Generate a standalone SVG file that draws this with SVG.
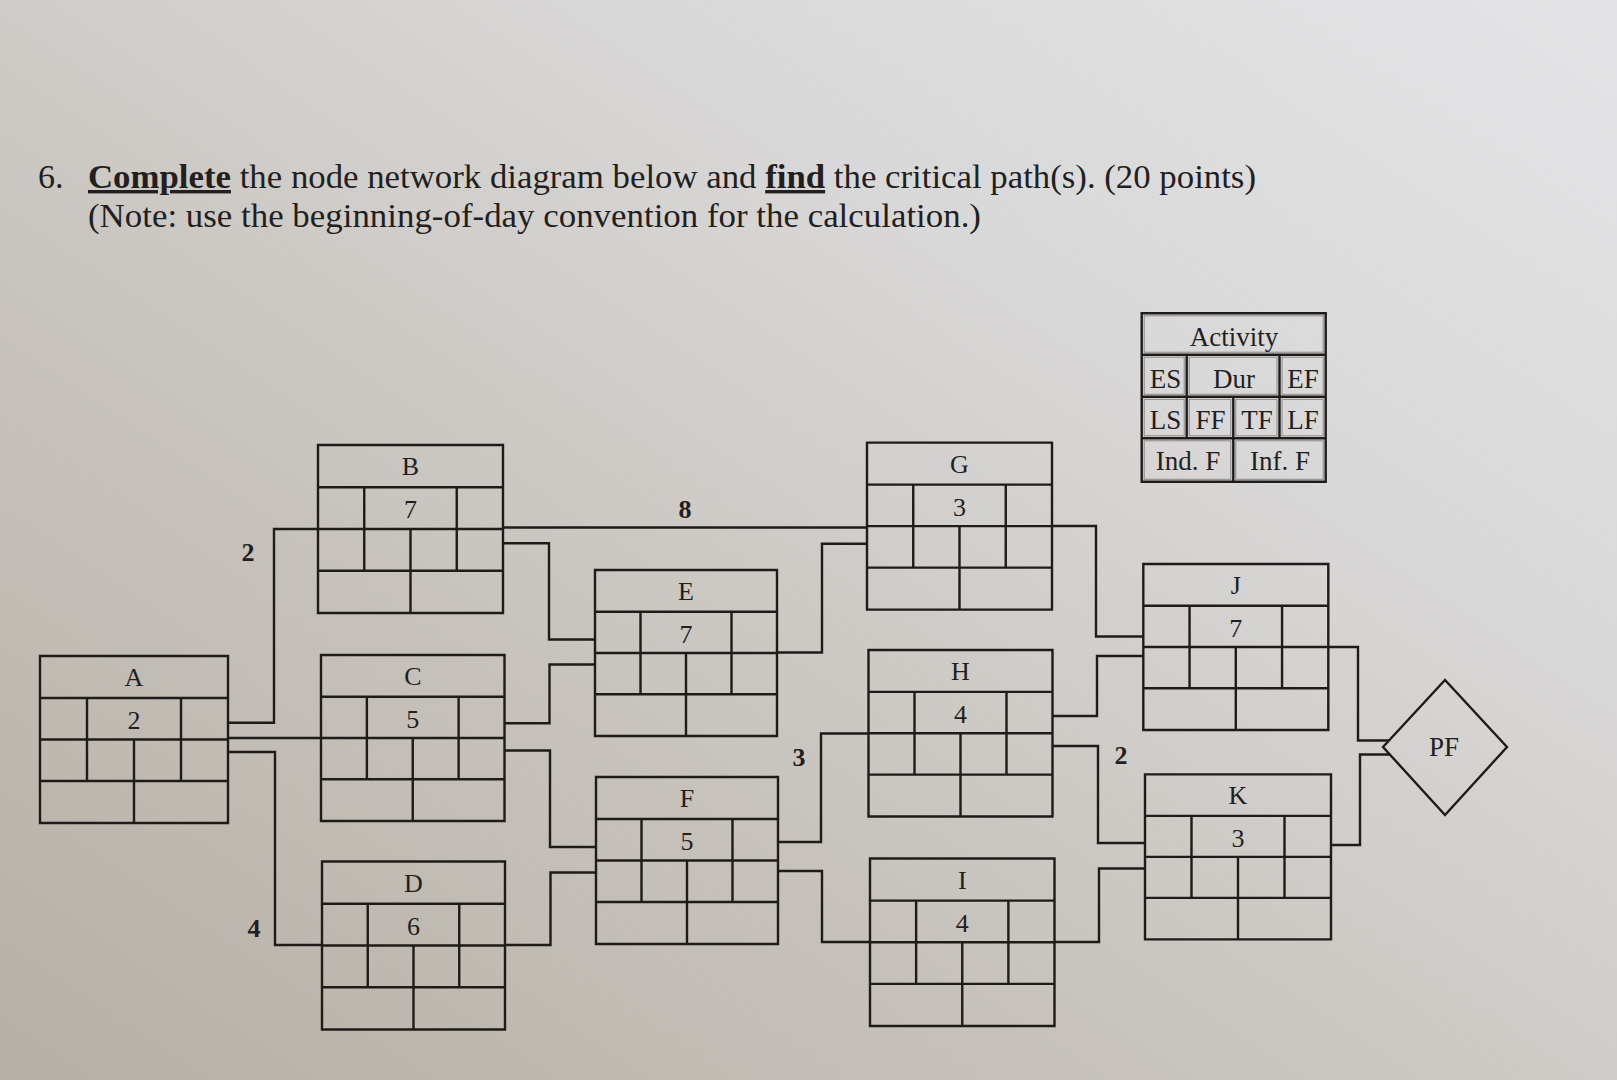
<svg xmlns="http://www.w3.org/2000/svg" width="1617" height="1080" viewBox="0 0 1617 1080">
<defs>
<linearGradient id="bg" x1="0" y1="1" x2="1" y2="0">
<stop offset="0" stop-color="#b6afa5"/>
<stop offset="0.38" stop-color="#c8c4be"/>
<stop offset="0.68" stop-color="#d9d8d8"/>
<stop offset="1" stop-color="#e4e4e6"/>
</linearGradient>
<symbol id="grid" viewBox="0 0 184 167" preserveAspectRatio="none" overflow="visible">
<path class="ln" d="M0 0H184V167H0Z M0 42H184 M0 83.5H184 M0 125H184 M46 42V125 M138 42V125 M92 83.5V167"/>
</symbol>
</defs>
<style>
.ln{fill:none;stroke:#1f1b18;stroke-width:2.4;vector-effect:non-scaling-stroke;stroke-linejoin:miter}
.cn{fill:none;stroke:#1f1b18;stroke-width:2.4;stroke-linejoin:miter}
.cell{fill:none;stroke:#8a8886;stroke-width:1}
.t{font-family:"Liberation Serif","Times New Roman",serif;fill:#221f1e}
.nl{font-size:26px;text-anchor:middle}
.lb{font-size:26px;font-weight:bold;text-anchor:middle}
.lg{font-size:27px;text-anchor:middle}
.title{font-size:34px}
</style>
<rect width="1617" height="1080" fill="url(#bg)"/>

<g id="heading">
<text class="t title" x="38" y="188">6.</text>
<text class="t title" x="88" y="188" textLength="1168" lengthAdjust="spacingAndGlyphs"><tspan font-weight="bold" text-decoration="underline">Complete</tspan> the node network diagram below and <tspan font-weight="bold" text-decoration="underline">find</tspan> the critical path(s). (20 points)</text>
<text class="t title" x="88" y="227" textLength="893" lengthAdjust="spacingAndGlyphs">(Note: use the beginning-of-day convention for the calculation.)</text>
</g>

<g id="legend">
<path class="cn" d="M1141.7 313.3H1325.7V481.8H1141.7Z M1141.7 354.7H1325.7 M1141.7 396.8H1325.7 M1141.7 438.3H1325.7 M1186.7 354.7V438.3 M1279.5 354.7V438.3 M1233.3 396.8V481.8"/>
<rect class="cell" x="1144.2" y="315.8" width="179" height="36.4"/>
<rect class="cell" x="1144.2" y="357.2" width="40" height="37.1"/>
<rect class="cell" x="1189.2" y="357.2" width="87.8" height="37.1"/>
<rect class="cell" x="1282" y="357.2" width="41.2" height="37.1"/>
<rect class="cell" x="1144.2" y="399.3" width="40" height="36.5"/>
<rect class="cell" x="1189.2" y="399.3" width="41.6" height="36.5"/>
<rect class="cell" x="1235.8" y="399.3" width="41.2" height="36.5"/>
<rect class="cell" x="1282" y="399.3" width="41.2" height="36.5"/>
<rect class="cell" x="1144.2" y="440.8" width="86.6" height="38.5"/>
<rect class="cell" x="1235.8" y="440.8" width="87.4" height="38.5"/>
<text class="t lg" x="1234" y="345.5">Activity</text>
<text class="t lg" x="1165.5" y="388">ES</text>
<text class="t lg" x="1234" y="388">Dur</text>
<text class="t lg" x="1303" y="388">EF</text>
<text class="t lg" x="1165.5" y="429">LS</text>
<text class="t lg" x="1210.5" y="429">FF</text>
<text class="t lg" x="1257" y="429">TF</text>
<text class="t lg" x="1303" y="429">LF</text>
<text class="t lg" x="1188" y="469.5">Ind. F</text>
<text class="t lg" x="1280" y="469.5">Inf. F</text>
</g>

<g id="connectors">
<path class="cn" d="M227.7 722.7H274V529H318"/>
<path class="cn" d="M227.7 738H321"/>
<path class="cn" d="M227.7 752H275V945H322"/>
<path class="cn" d="M503 527.5H867"/>
<path class="cn" d="M503 543.3H549V639.5H595"/>
<path class="cn" d="M504.5 723.3H549.5V664.5H595"/>
<path class="cn" d="M504.5 750.5H550V847H596"/>
<path class="cn" d="M505 945H550.5V872.5H596"/>
<path class="cn" d="M777 652.5H822V543.7H867"/>
<path class="cn" d="M778 842H821V733.5H868.5"/>
<path class="cn" d="M778 871H822V942H870"/>
<path class="cn" d="M1052 526H1096V636.5H1143.3"/>
<path class="cn" d="M1052.5 716H1097V656H1143.3"/>
<path class="cn" d="M1052.5 746H1098V843H1145"/>
<path class="cn" d="M1054.5 942H1099V868.5H1145"/>
<path class="cn" d="M1328.3 647H1358V740.5H1389"/>
<path class="cn" d="M1331 845H1360V754.5H1390"/>
<text class="t lb" x="248" y="561">2</text>
<text class="t lb" x="254" y="937">4</text>
<text class="t lb" x="685" y="518">8</text>
<text class="t lb" x="799" y="766">3</text>
<text class="t lb" x="1121" y="764">2</text>
</g>

<g id="node-A"><use href="#grid" x="40" y="656" width="188" height="167"/><text class="t nl" x="134" y="686">A</text><text class="t nl" x="134" y="729">2</text></g>
<g id="node-B"><use href="#grid" x="318" y="445" width="185" height="168"/><text class="t nl" x="410.5" y="475">B</text><text class="t nl" x="410.5" y="518">7</text></g>
<g id="node-C"><use href="#grid" x="321" y="655" width="183.5" height="166"/><text class="t nl" x="412.8" y="685">C</text><text class="t nl" x="412.8" y="728">5</text></g>
<g id="node-D"><use href="#grid" x="322" y="861.5" width="183" height="168"/><text class="t nl" x="413.5" y="891.5">D</text><text class="t nl" x="413.5" y="934.5">6</text></g>
<g id="node-E"><use href="#grid" x="595" y="570" width="182" height="166"/><text class="t nl" x="686" y="600">E</text><text class="t nl" x="686" y="643">7</text></g>
<g id="node-F"><use href="#grid" x="596" y="777" width="182" height="167"/><text class="t nl" x="687" y="807">F</text><text class="t nl" x="687" y="850">5</text></g>
<g id="node-G"><use href="#grid" x="867" y="442.6" width="185" height="167"/><text class="t nl" x="959.5" y="472.6">G</text><text class="t nl" x="959.5" y="515.6">3</text></g>
<g id="node-H"><use href="#grid" x="868.5" y="650" width="184" height="166.5"/><text class="t nl" x="960.5" y="680">H</text><text class="t nl" x="960.5" y="723">4</text></g>
<g id="node-I"><use href="#grid" x="870" y="858.5" width="184.5" height="167.5"/><text class="t nl" x="962.3" y="888.5">I</text><text class="t nl" x="962.3" y="931.5">4</text></g>
<g id="node-J"><use href="#grid" x="1143.3" y="564" width="185" height="166"/><text class="t nl" x="1235.8" y="594">J</text><text class="t nl" x="1235.8" y="637">7</text></g>
<g id="node-K"><use href="#grid" x="1145" y="774.4" width="186" height="165"/><text class="t nl" x="1238" y="804.4">K</text><text class="t nl" x="1238" y="847.4">3</text></g>
<g id="node-PF"><path class="cn" d="M1383 747L1445 680L1507 747L1445 815Z"/><text class="t lg" x="1444" y="756">PF</text></g>
</svg>
